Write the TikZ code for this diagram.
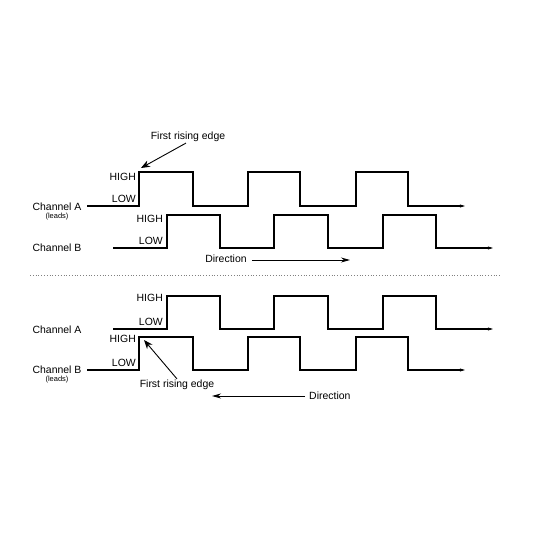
\documentclass[tikz,border=0pt]{standalone}
\usepackage{fontspec}
\setmainfont{Liberation Sans}
\usetikzlibrary{arrows.meta}
\begin{document}
\begin{tikzpicture}[x=1bp,y=-1bp,
  wave/.style={line width=2bp,line join=miter,-{Stealth[length=5bp,width=3bp]}},
  lbl/.style={font=\fontsize{10.5}{12}\selectfont,inner sep=0pt},
  small/.style={font=\fontsize{7.5}{9}\selectfont,inner sep=0pt},
  pointer/.style={line width=0.9bp,-{Stealth[length=9bp,width=7bp]}},
  dirarrow/.style={line width=0.9bp,-{Stealth[length=9bp,width=5bp]}}]
\useasboundingbox (0,0) rectangle (540,540);
\fill[white] (0,0) rectangle (540,540);

% ---------- top: Channel A leads ----------
\node[lbl] (chA1) at (57,207) {Channel A};
\node[small] (lead1) at (57,217) {(leads)};
\node[lbl] (chB1) at (57,248) {Channel B};
\node[lbl,anchor=east] (hiA1) at (136,177) {HIGH};
\node[lbl,anchor=east] (loA1) at (136,199) {LOW};
\node[lbl,anchor=east] (hiB1) at (163,219) {HIGH};
\node[lbl,anchor=east] (loB1) at (163,241) {LOW};

\draw[wave] (87,206) -- (139,206) -- (139,172) -- (193,172) -- (193,206)
  -- (248,206) -- (248,172) -- (300,172) -- (300,206) -- (356,206)
  -- (356,172) -- (408,172) -- (408,206) -- (465,206);
\draw[wave] (113,248) -- (167,248) -- (167,215) -- (220,215) -- (220,248)
  -- (274,248) -- (274,215) -- (328,215) -- (328,248) -- (383,248)
  -- (383,215) -- (436,215) -- (436,248) -- (493,248);

\node[lbl] (fre1) at (188,137) {First rising edge};
\coordinate (edge1) at (141,168);
\draw[pointer] (fre1.south) ++(-2,1) coordinate (fs1) -- (edge1);

\node[lbl] (dir1) at (226,259) {Direction};
\coordinate (dirend1) at (350,260);
\draw[dirarrow] (dir1.east) ++(5,1) -- (dirend1);

% ---------- separator ----------
\draw[gray,dotted,line width=0.8bp] (30,275) -- (500,275);

% ---------- bottom: Channel B leads ----------
\node[lbl] (chA2) at (57,330) {Channel A};
\node[lbl] (chB2) at (57,370) {Channel B};
\node[small] (lead2) at (57,380) {(leads)};
\node[lbl,anchor=east] (hiA2) at (163,298) {HIGH};
\node[lbl,anchor=east] (loA2) at (163,322) {LOW};
\node[lbl,anchor=east] (hiB2) at (136,339) {HIGH};
\node[lbl,anchor=east] (loB2) at (136,363) {LOW};

\draw[wave] (113,329) -- (167,329) -- (167,296) -- (220,296) -- (220,329)
  -- (274,329) -- (274,296) -- (328,296) -- (328,329) -- (383,329)
  -- (383,296) -- (436,296) -- (436,329) -- (493,329);
\draw[wave] (87,370) -- (139,370) -- (139,337) -- (193,337) -- (193,370)
  -- (248,370) -- (248,337) -- (300,337) -- (300,370) -- (356,370)
  -- (356,337) -- (408,337) -- (408,370) -- (465,370);

\node[lbl] (fre2) at (177,385) {First rising edge};
\coordinate (edge2) at (144,340);
\draw[pointer] (fre2.north) ++(0,-1) -- (edge2);

\node[lbl,anchor=west] (dir2) at (309,396) {Direction};
\coordinate (dirend2) at (212,396);
\draw[dirarrow] (dir2.west) ++(-4,0) -- (dirend2);
\end{tikzpicture}
\end{document}
